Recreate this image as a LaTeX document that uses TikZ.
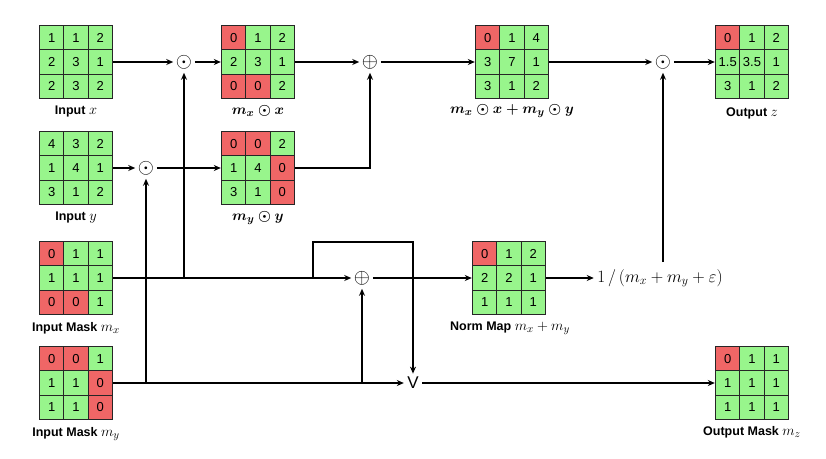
\documentclass[tikz,border=0pt]{standalone}
\usepackage{amsmath,amsbsy}
\usepackage{fontspec}
\setmainfont{Liberation Sans}
\usetikzlibrary{arrows.meta,calc}
\definecolor{cg}{RGB}{152,245,140}
\definecolor{cr}{RGB}{240,102,102}
\tikzset{
 cell/.style={draw=black!85,line width=1.2pt,minimum size=24.3pt,inner sep=0pt,font=\fontsize{13}{15}\selectfont},
 gbox/.style={draw=black!85,line width=1.4pt,minimum size=73pt,inner sep=0pt},
 lab/.style={font=\fontsize{12.5}{15}\selectfont\bfseries},
 mlab/.style={font=\fontsize{15}{18}\selectfont},
 op/.style={circle,inner sep=0pt,minimum size=16pt,font=\fontsize{20}{22}\selectfont},
 ln/.style={line width=1.1pt},
 ar/.style={ln,-{Stealth[length=7pt,width=6pt]}}
}
\newcommand\mkgrid[4]{%
 \node[gbox] (#1) at (#2,#3) {};
 \foreach \v/\c [count=\i from 0] in {#4}{%
  \pgfmathtruncatemacro\cc{mod(\i,3)}\pgfmathtruncatemacro\rr{div(\i,3)}%
  \node[cell,fill=c\c] at ($(#2,#3)+(\cc*24.3-24.3,\rr*24.3-24.3)$) {\v};}
 \node[gbox] at (#2,#3) {};}
\begin{document}
\begin{tikzpicture}[x=1pt,y=-1pt]
\useasboundingbox (0,0) rectangle (826,458);
\mkgrid{gx}{76}{62}{1/g,1/g,2/g,2/g,3/g,1/g,2/g,3/g,2/g}
\mkgrid{gy}{76}{168}{4/g,3/g,2/g,1/g,4/g,1/g,3/g,1/g,2/g}
\mkgrid{gmx}{76}{278}{0/r,1/g,1/g,1/g,1/g,1/g,0/r,0/r,1/g}
\mkgrid{gmy}{76}{383}{0/r,0/r,1/g,1/g,1/g,0/r,1/g,1/g,0/r}
\mkgrid{gmxx}{258}{62}{0/r,1/g,2/g,2/g,3/g,1/g,0/r,0/r,2/g}
\mkgrid{gmyy}{258}{168}{0/r,0/r,2/g,1/g,4/g,0/r,3/g,1/g,0/r}
\mkgrid{gsum}{512}{62}{0/r,1/g,4/g,3/g,7/g,1/g,3/g,1/g,2/g}
\mkgrid{gz}{752}{62}{0/r,1/g,2/g,1.5/g,3.5/g,1/g,3/g,1/g,2/g}
\mkgrid{gn}{509}{278}{0/r,1/g,2/g,2/g,2/g,1/g,1/g,1/g,1/g}
\mkgrid{gmz}{752}{383}{0/r,1/g,1/g,1/g,1/g,1/g,1/g,1/g,1/g}
\node[lab] (lx) at (76,111) {Input \fontsize{15}{18}\selectfont$x$};
\node[lab] (ly) at (76,218) {Input \fontsize{15}{18}\selectfont$y$};
\node[lab] (lmx) at (76,328) {Input Mask \fontsize{15}{18}\selectfont$m_x$};
\node[lab] (lmy) at (76,434) {Input Mask \fontsize{15}{18}\selectfont$m_y$};
\node[mlab] (lmxx) at (258,111) {$\boldsymbol{m_x\odot x}$};
\node[mlab] (lmyy) at (258,218) {$\boldsymbol{m_y\odot y}$};
\node[mlab] (lsum) at (512,111) {$\boldsymbol{m_x\odot x+m_y\odot y}$};
\node[lab] (lz) at (752,113) {Output \fontsize{15}{18}\selectfont$z$};
\node[lab] (ln) at (510,328) {Norm Map \fontsize{15}{18}\selectfont$m_x+m_y$};
\node[lab] (lmz) at (752,432) {Output Mask \fontsize{15}{18}\selectfont$m_z$};
\node[op] (o1) at (184,62) {$\odot$};
\node[op] (o2) at (146,168) {$\odot$};
\node[op] (p1) at (370,62) {$\oplus$};
\node[op] (p2) at (362,278) {$\oplus$};
\node[op] (o3) at (663,62) {$\odot$};
\node[font=\fontsize{17}{19}\selectfont] (vv) at (413,383) {V};
\node[font=\fontsize{17}{20}\selectfont] (inv) at (660,278) {$1\,/\,(m_x+m_y+\varepsilon)$};
\coordinate (ja) at (184,278);
\coordinate (jb) at (146,383);
\coordinate (jc) at (362,383);
\coordinate (jd) at (313,278);
\draw[ar] (gx.east) -- (o1);
\draw[ar] (o1) -- (gmxx.west);
\draw[ar] (gmxx.east) -- (p1);
\draw[ar] (p1) -- (gsum.west);
\draw[ar] (gsum.east) -- (o3);
\draw[ar] (o3) -- (gz.west);
\draw[ar] (gy.east) -- (o2);
\draw[ar] (o2) -- (gmyy.west);
\draw[ar] (gmyy.east) -| (p1);
\draw[ar] (gmx.east) -- (p2);
\draw[ar] (ja) -- (o1);
\draw[ar] (jb) -- (o2);
\draw[ar] (jd) |- (413,242) -- (vv.north);
\draw[ar] (gmy.east) -- (vv);
\draw[ar] (jc) -- (p2);
\draw[ar] (p2) -- (gn.west);
\draw[ar] (vv) -- (gmz.west);
\draw[ar] (gn.east) -- (inv.west);
\draw[ar] (663,262) -- (o3);
\end{tikzpicture}
\end{document}
